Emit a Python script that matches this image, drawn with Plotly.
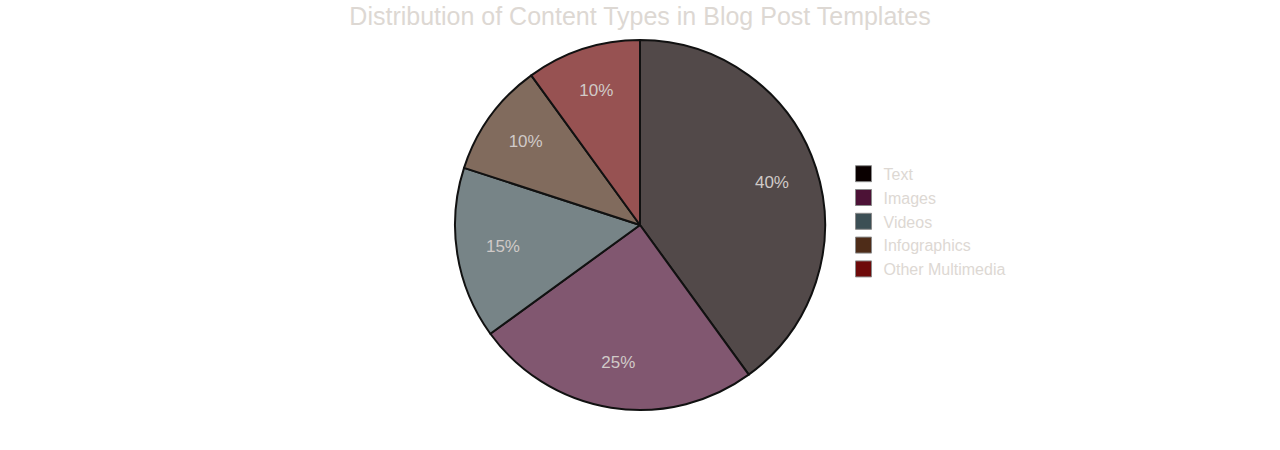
import plotly.graph_objects as go

labels = ["Text", "Images", "Videos", "Infographics", "Other Multimedia"]
values = [40, 25, 15, 10, 10]
legend_colors = ["#0a0000", "#4c1236", "#3c4f55", "#4e2c18", "#6e0a0a"]
slice_colors = ["#524949", "#815770", "#778487", "#816b5d", "#975252"]

fig = go.Figure()

# main pie (no text)
fig.add_trace(go.Pie(
    labels=labels,
    values=values,
    marker=dict(colors=slice_colors, line=dict(color="#111111", width=2)),
    sort=False,
    direction="clockwise",
    rotation=0,
    textinfo="none",
    showlegend=False,
    hoverinfo="label+percent",
))

# overlay pie used only to place percentage labels further out
fig.add_trace(go.Pie(
    labels=labels,
    values=values,
    hole=0.5,
    marker=dict(colors=["rgba(0,0,0,0)"] * len(labels), line=dict(width=0)),
    sort=False,
    direction="clockwise",
    rotation=0,
    textinfo="percent",
    textposition="inside",
    insidetextorientation="horizontal",
    textfont=dict(color="#d0cac8", size=17, family="Liberation Sans, Arial"),
    showlegend=False,
    hoverinfo="skip",
))

# legend entries
for lab, col in zip(labels, legend_colors):
    fig.add_trace(go.Scatter(
        x=[None], y=[None], mode="markers", name=lab,
        marker=dict(symbol="square", size=16, color=col,
                    line=dict(color="#8a8a8a", width=1)),
        hoverinfo="skip",
    ))

fig.update_layout(
    width=1280, height=450,
    title=dict(text="Distribution of Content Types in Blog Post Templates",
               x=0.5, xanchor="center", y=0.964, yanchor="middle",
               font=dict(size=25, color="#ddd8d3", family="Liberation Sans, Arial")),
    font=dict(family="Liberation Sans, Arial", color="#ddd8d3"),
    paper_bgcolor="#ffffff",
    plot_bgcolor="#ffffff",
    margin=dict(l=0, r=0, t=40, b=40),
    xaxis=dict(visible=False),
    yaxis=dict(visible=False),
    showlegend=True,
    legend=dict(x=0.659, xanchor="left", y=0.51, yanchor="middle",
                font=dict(size=16, color="#ddd8d3"),
                bgcolor="rgba(0,0,0,0)"),
)

fig.write_html("out.html",
               config={"displayModeBar": False},
               post_script="document.body.style.margin='0px';")
